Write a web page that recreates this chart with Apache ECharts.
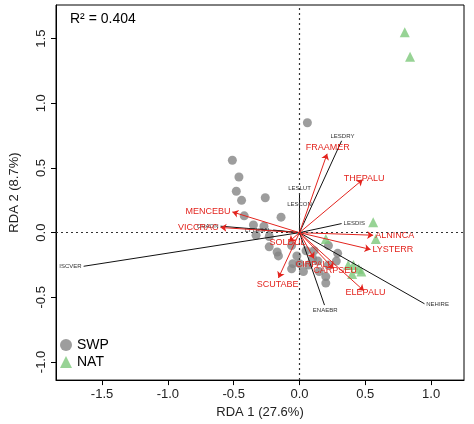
<!DOCTYPE html>
<html><head><meta charset="utf-8">
<script src="https://cdn.jsdelivr.net/npm/echarts@6/dist/echarts.min.js"></script>
<style>html,body{margin:0;padding:0;background:#fff}#c{width:474px;height:424px}</style>
</head><body><div id="c"></div>
<script>
const xTicks=[-1.5,-1.0,-0.5,0,0.5,1.0];
const yTicks=[-1.0,-0.5,0,0.5,1.0,1.5];
const swp=[[0.06,0.85],[-0.51,0.56],[-0.46,0.43],[-0.48,0.32],[-0.44,0.25],[-0.26,0.27],[-0.42,0.13],[-0.14,0.12],[-0.35,0.06],[-0.27,0.05],[-0.33,-0.02],[-0.23,-0.03],[-0.17,-0.15],[-0.16,-0.18],[-0.06,-0.1],[-0.02,-0.18],[-0.05,-0.24],[0,-0.24],[0.03,-0.3],[-0.06,-0.28],[0.11,-0.14],[0.15,-0.3],[0.2,-0.34],[0.2,-0.39],[0.22,-0.1],[0.29,-0.16],[0.1,-0.2],[0.28,-0.22],[0.05,-0.14],[-0.23,-0.11],[0.22,-0.25],[0.14,-0.22],[0.07,-0.25]];
const nat=[[0.8,1.55],[0.84,1.36],[0.56,0.08],[0.58,-0.05],[0.2,-0.05],[0.37,-0.25],[0.41,-0.25],[0.45,-0.28],[0.4,-0.32],[0.47,-0.3]];
const blackNames=["LESDRY","ISCVER","NEHIRE","ENAEBR","LESDIS","LESLUT","LESCON","CHAON","LYTHSAL"];
const blackEnds=[[0.32,0.71],[-1.64,-0.26],[0.95,-0.55],[0.19,-0.56],[0.32,0.07],[0.0,0.30],[0.0,0.18],[-0.6,0.05],[-0.2,0.02]];
const redNames=["FRAAMER","THEPALU","MENCEBU","VICCRAC","ALNINCA","LYSTERR","ELEPALU","SCUTABE","CARPSEU","CIRPALU","SOLDUL"];
const redEnds=[[0.21,0.61],[0.48,0.41],[-0.51,0.16],[-0.6,0.04],[0.56,-0.02],[0.54,-0.13],[0.49,-0.45],[-0.16,-0.35],[0.26,-0.28],[0.11,-0.2],[-0.08,-0.07]];
const mk=(n,e)=>n.map((nm,i)=>({name:nm,coords:[[0,0],e[i]]}));
const chart=echarts.init(document.getElementById('c'));
const axisLine={show:true,onZero:false,lineStyle:{color:'#000'}};
const nameTS={color:'#222',fontSize:13,fontFamily:'Liberation Sans'};
chart.setOption({
 animation:false,
 grid:{left:52,right:10,top:5,bottom:42,show:true,borderColor:'#000',borderWidth:1},
 graphic:[{type:'text',left:70,top:12,style:{text:'R² = 0.404',fontSize:14,fill:'#000',fontFamily:'Liberation Sans'}}],
 legend:{orient:'vertical',left:55,top:333,itemGap:3,itemWidth:12,itemHeight:12,textStyle:{fontSize:14,color:'#000',fontFamily:'Liberation Sans'},data:[{name:'SWP',icon:'circle'},{name:'NAT',icon:'triangle'}]},
 xAxis:{type:'value',min:-1.85,max:1.25,name:'RDA 1 (27.6%)',nameLocation:'middle',nameGap:25,nameTextStyle:nameTS,axisLine:axisLine,splitLine:{show:false},
   axisLabel:{customValues:xTicks,formatter:v=>v.toFixed(1),color:'#222',fontSize:13,fontFamily:'Liberation Sans'},axisTick:{show:true,customValues:xTicks,length:5,lineStyle:{color:'#000'}}},
 yAxis:{type:'value',min:-1.14,max:1.76,name:'RDA 2 (8.7%)',nameLocation:'middle',nameGap:35,nameTextStyle:nameTS,axisLine:axisLine,splitLine:{show:false},
   axisLabel:{customValues:yTicks,formatter:v=>v.toFixed(1),rotate:90,color:'#222',fontSize:13,fontFamily:'Liberation Sans'},axisTick:{show:true,customValues:yTicks,length:5,lineStyle:{color:'#000'}}},
 series:[
  {name:'SWP',type:'scatter',data:swp,symbol:'circle',symbolSize:9,itemStyle:{color:'#858585'},z:2,
   markLine:{silent:true,symbol:'none',label:{show:false},lineStyle:{color:'#333',type:[2,3],width:1.2},data:[{xAxis:0},{yAxis:0}]}},
  {name:'NAT',type:'scatter',data:nat,symbol:'triangle',symbolSize:10,itemStyle:{color:'#7dc87a'},z:2},
  {type:'lines',coordinateSystem:'cartesian2d',data:mk(blackNames,blackEnds),lineStyle:{color:'#111',width:1,opacity:1},symbol:['none','none'],
   label:{show:true,position:'end',distance:2,formatter:p=>p.name,fontSize:6,color:'#333',fontFamily:'Liberation Sans'},z:3},
  {type:'lines',coordinateSystem:'cartesian2d',data:mk(redNames,redEnds),lineStyle:{color:'#e3241e',width:1,opacity:1},symbol:['none','arrow'],symbolSize:6,
   label:{show:true,position:'end',distance:2,formatter:p=>p.name,fontSize:9,color:'#e3241e',fontFamily:'Liberation Sans'},z:4}
 ]
});
</script></body></html>
